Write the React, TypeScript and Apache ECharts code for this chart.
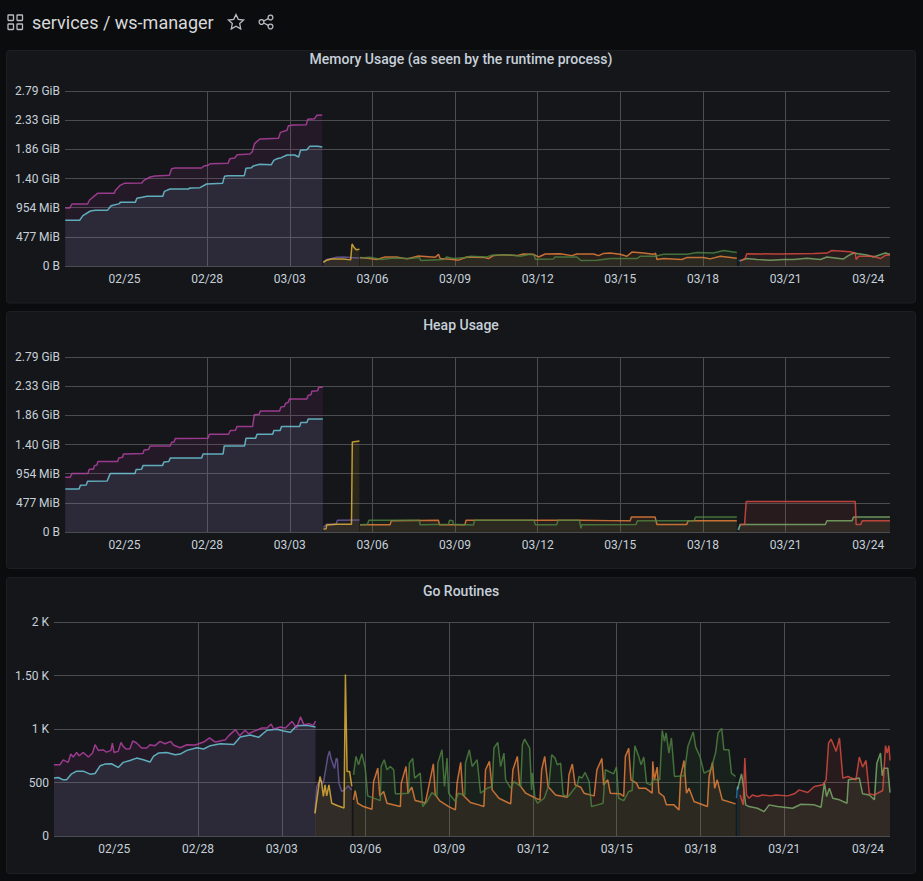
import React, { useEffect, useRef } from "react";
import * as echarts from "echarts";

type Pts = number[][];

// x = days since 02/25 (UTC), y = megabytes (memory, heap) or goroutine count
const BASE_YEAR = 2021;
const tickDays = [0, 3, 6, 9, 12, 15, 18, 21, 24, 27];
const startDay = -2.16;
const endDay = 27.79;
const byteTickLabels = ["0 B", "477 MiB", "954 MiB", "1.40 GiB", "1.86 GiB", "2.33 GiB", "2.79 GiB"];
const goTickLabels = ["0", "500", "1 K", "1.50 K", "2 K"];
const panelTitles = ["Memory Usage (as seen by the runtime process)", "Heap Usage", "Go Routines"];

const memMagenta: Pts = [[-2.15,994],[-1.99,994],[-1.91,1063],[-1.34,1063],[-1.27,1131],[-0.98,1246],[-0.37,1246],[-0.34,1291],[-0.16,1383],[-0.01,1417],[0.63,1423],[0.69,1463],[0.93,1526],[1.11,1543],[1.63,1554],[1.71,1669],[1.83,1680],[2.8,1680],[2.88,1714],[3.04,1726],[3.1,1754],[3.76,1760],[3.82,1840],[4.0,1851],[4.09,1909],[4.55,1920],[4.64,1960],[4.72,2097],[4.91,2177],[5.59,2188],[5.66,2291],[5.9,2326],[5.95,2406],[6.12,2417],[6.6,2423],[6.65,2514],[6.9,2526],[6.98,2583],[7.18,2588]];
const memCyan: Pts = [[-2.15,783],[-1.63,783],[-1.51,863],[-1.24,943],[-1.06,954],[-0.62,954],[-0.49,1034],[-0.18,1069],[-0.16,1091],[0.39,1091],[0.45,1160],[0.69,1183],[0.81,1194],[1.39,1194],[1.45,1280],[1.65,1320],[2.32,1320],[2.38,1337],[2.74,1343],[2.98,1406],[3.56,1417],[3.63,1537],[3.76,1549],[4.35,1549],[4.41,1674],[4.61,1686],[4.67,1714],[4.91,1743],[5.33,1737],[5.42,1811],[5.54,1840],[5.69,1857],[5.9,1903],[6.18,1903],[6.32,1869],[6.39,1983],[6.62,1994],[6.72,2051],[7.02,2051],[7.18,2040]];
const memPurple: Pts = [[7.22,72],[7.34,111],[7.52,128],[7.7,150],[7.95,155],[8.21,144],[8.53,139]];
const memYellow: Pts = [[7.22,61],[7.34,100],[7.52,122],[7.95,122],[8.21,105],[8.26,377],[8.33,322],[8.41,278],[8.53,289]];
const memOrange: Pts = [[8.55,144],[8.91,128],[9.16,111],[9.46,155],[9.88,155],[10.25,122],[10.67,172],[11.28,150],[11.4,200],[11.46,128],[11.94,111],[12.12,100],[12.42,155],[13.09,144],[13.21,128],[13.39,178],[13.76,194],[14.24,178],[14.48,205],[14.85,200],[15.03,155],[15.27,205],[15.82,211],[16.24,178],[16.42,205],[17.03,205],[17.21,178],[17.39,216],[17.63,222],[17.99,200],[18.24,167],[18.42,239],[18.84,222],[19.2,200],[19.28,222],[19.33,111],[19.57,128],[20.23,111],[20.41,144],[21.02,144],[21.26,122],[21.63,167],[22.23,133]];
const memGreen: Pts = [[8.55,139],[8.91,150],[9.34,111],[9.76,139],[10.37,128],[10.71,144],[10.75,94],[11.58,111],[11.7,155],[11.94,128],[12.42,144],[12.55,167],[13.15,155],[13.33,183],[14.0,194],[14.36,167],[14.73,200],[14.87,189],[14.92,117],[15.57,122],[15.63,155],[16.42,155],[16.57,94],[17.15,100],[17.63,128],[18.6,128],[18.72,167],[19.26,167],[19.57,200],[20.41,200],[20.78,233],[21.38,222],[21.75,266],[22.23,233]];
const memBlue: Pts = [[22.29,100],[22.38,89]];
const memRed: Pts = [[22.35,89],[22.53,128],[22.59,211],[23.68,205],[25.02,216],[25.5,222],[25.68,266],[26.35,244],[26.53,222],[26.56,111],[26.65,167],[27.19,167],[27.44,128],[27.62,183],[27.79,189]];
const memLightGreen: Pts = [[22.35,89],[22.59,128],[22.96,111],[23.44,100],[23.93,111],[24.29,111],[24.77,133],[25.26,111],[25.5,155],[26.1,122],[26.29,183],[26.47,222],[26.95,189],[27.19,155],[27.62,222],[27.79,200]];

const heapMagenta: Pts = [[-2.15,938],[-1.97,938],[-1.91,1001],[-1.33,1001],[-1.28,1075],[-1.13,1075],[-1.09,1138],[-1.0,1150],[-0.97,1207],[-0.25,1207],[-0.21,1270],[-0.07,1281],[-0.04,1338],[0.67,1344],[0.71,1407],[0.87,1413],[0.93,1476],[1.66,1476],[1.71,1539],[1.8,1544],[1.84,1602],[3.03,1607],[3.08,1676],[3.78,1676],[3.84,1739],[4.03,1745],[4.08,1808],[4.65,1808],[4.71,2008],[4.89,2019],[4.93,2076],[5.63,2076],[5.68,2145],[5.8,2151],[5.85,2208],[5.94,2219],[5.99,2282],[6.62,2282],[6.67,2345],[6.77,2351],[6.8,2414],[7.01,2420],[7.05,2482],[7.2,2482]];
const heapCyan: Pts = [[-2.15,738],[-1.65,738],[-1.6,801],[-1.39,807],[-1.34,869],[-0.63,875],[-0.58,932],[-0.52,1001],[0.38,1001],[0.42,1070],[0.62,1075],[0.67,1138],[1.38,1138],[1.43,1201],[1.61,1207],[1.66,1270],[2.8,1270],[2.85,1338],[3.58,1338],[3.62,1476],[4.36,1476],[4.41,1607],[4.76,1607],[4.81,1676],[5.38,1676],[5.42,1739],[5.65,1739],[5.7,1808],[6.36,1808],[6.4,1876],[6.62,1876],[6.67,1939],[7.2,1939]];
const heapPurple: Pts = [[7.22,80],[7.34,132],[7.68,132],[7.73,201],[8.53,207]];
const heapYellow: Pts = [[7.22,52],[7.32,57],[7.34,121],[7.7,132],[8.24,132],[8.27,1541],[8.53,1558]];
const heapOrange: Pts = [[8.55,126],[9.64,126],[9.69,195],[11.4,201],[11.43,126],[12.36,126],[12.4,201],[15.72,201],[16.54,201],[17.63,195],[18.36,191],[18.4,259],[19.26,259],[19.33,129],[20.41,129],[20.46,191],[22.23,191]];
const heapGreen: Pts = [[8.55,126],[8.82,132],[8.87,201],[10.71,201],[10.73,126],[11.76,132],[11.8,201],[11.92,195],[11.94,132],[12.67,120],[12.7,201],[14.87,201],[14.91,126],[15.69,126],[15.74,201],[16.52,201],[16.57,63],[16.6,126],[18.57,129],[18.62,191],[20.68,191],[20.73,259],[22.23,259]];
const heapBlue: Pts = [[22.27,34],[22.35,129]];
const heapRed: Pts = [[22.35,129],[22.51,129],[22.57,523],[26.53,523],[26.56,129],[26.73,129],[26.78,191],[27.79,191]];
const heapLightGreen: Pts = [[22.29,34],[22.35,129],[25.44,129],[25.5,191],[26.41,191],[26.47,259],[27.79,259]];

const goMagenta: Pts = [[-2.16,666],[-1.95,666],[-1.83,712],[-1.65,688],[-1.56,766],[-1.47,738],[-1.35,781],[-1.26,750],[-1.11,781],[-0.93,738],[-0.78,775],[-0.69,853],[-0.57,800],[-0.4,806],[-0.28,784],[-0.12,800],[-0.07,869],[-0.01,781],[0.14,791],[0.24,875],[0.32,838],[0.42,813],[0.56,816],[0.66,888],[0.8,869],[0.98,822],[1.16,822],[1.28,853],[1.46,844],[1.64,884],[1.82,862],[2.02,884],[2.12,850],[2.36,825],[2.6,853],[2.9,850],[3.2,878],[3.41,916],[3.62,878],[3.98,900],[4.1,938],[4.34,994],[4.49,938],[4.69,988],[4.81,956],[4.99,978],[5.29,1009],[5.47,1009],[5.62,1047],[5.71,1000],[5.95,1019],[6.13,1009],[6.37,1072],[6.53,1009],[6.67,1113],[6.79,1041],[6.97,1050],[7.13,1034],[7.21,1075]];
const goCyan: Pts = [[-2.16,541],[-2.01,547],[-1.83,525],[-1.71,525],[-1.53,581],[-1.35,606],[-1.11,606],[-0.87,578],[-0.69,584],[-0.51,656],[-0.34,672],[-0.1,675],[0.14,641],[0.32,688],[0.56,706],[0.8,728],[1.04,713],[1.28,691],[1.4,744],[1.58,775],[1.88,781],[2.18,759],[2.36,766],[2.6,800],[2.96,825],[3.2,813],[3.44,844],[3.8,863],[4.28,856],[4.51,925],[4.87,944],[5.17,922],[5.47,988],[5.83,997],[6.07,981],[6.31,969],[6.53,1031],[6.91,1034],[7.21,1019]];
const goPurple: Pts = [[7.19,212],[7.25,462],[7.37,525],[7.49,494],[7.57,619],[7.65,744],[7.71,794],[7.77,719],[7.89,631],[7.95,725],[7.99,719],[8.05,494],[8.15,416],[8.25,431],[8.37,469],[8.51,431]];
const goYellow: Pts = [[7.19,212],[7.29,400],[7.37,556],[7.43,494],[7.49,369],[7.55,478],[7.61,375],[7.69,478],[7.79,306],[8.03,281],[8.23,262],[8.28,1509],[8.34,603],[8.43,603],[8.51,463]];
const goOrange: Pts = [[8.57,338],[8.63,425],[8.72,306],[8.93,275],[9.23,250],[9.29,509],[9.44,634],[9.51,375],[9.65,416],[9.77,306],[10.25,275],[10.28,494],[10.45,650],[10.52,400],[10.66,456],[10.78,331],[11.08,313],[11.14,306],[11.29,494],[11.43,675],[11.5,384],[11.66,328],[11.98,275],[12.22,244],[12.28,494],[12.41,688],[12.49,384],[12.76,313],[13.06,291],[13.24,275],[13.3,619],[13.44,697],[13.54,431],[13.78,353],[14.2,300],[14.28,619],[14.44,744],[14.52,478],[14.74,400],[15.1,353],[15.25,338],[15.31,619],[15.42,744],[15.54,463],[15.81,384],[16.23,363],[16.29,572],[16.41,672],[16.51,478],[16.71,456],[16.83,400],[17.19,375],[17.29,619],[17.47,725],[17.53,478],[17.68,525],[17.77,400],[18.13,394],[18.25,369],[18.31,744],[18.43,819],[18.51,525],[18.71,494],[18.79,447],[19.03,447],[19.27,400],[19.29,697],[19.35,525],[19.45,644],[19.51,406],[19.69,369],[19.78,291],[20.05,291],[20.23,244],[20.29,556],[20.41,706],[20.5,400],[20.59,447],[20.77,322],[21.25,275],[21.31,556],[21.43,688],[21.51,447],[21.6,525],[21.78,338],[22.26,300]];
const goGreen: Pts = [[8.57,572],[8.66,744],[8.75,666],[8.87,769],[8.99,634],[9.08,375],[9.53,331],[9.56,650],[9.67,713],[9.77,619],[9.89,650],[10.01,619],[10.07,394],[10.25,394],[10.54,400],[10.57,681],[10.69,725],[10.76,541],[10.96,588],[11.05,275],[11.2,322],[11.38,406],[11.56,369],[11.59,681],[11.74,806],[11.83,463],[11.92,728],[11.98,400],[12.22,322],[12.32,400],[12.56,384],[12.58,681],[12.72,806],[12.82,650],[13.0,713],[13.12,400],[13.36,447],[13.54,463],[13.6,822],[13.74,875],[13.84,650],[13.96,775],[14.02,525],[14.2,447],[14.32,509],[14.56,463],[14.62,853],[14.7,906],[14.88,822],[14.95,431],[14.98,588],[15.07,353],[15.16,306],[15.4,353],[15.57,478],[15.67,759],[15.79,728],[15.87,666],[15.99,681],[16.08,384],[16.26,369],[16.59,478],[16.65,556],[16.75,541],[16.87,594],[17.01,509],[17.1,275],[17.31,291],[17.51,306],[17.59,619],[17.89,581],[17.99,644],[18.07,353],[18.25,331],[18.43,416],[18.55,425],[18.65,844],[18.79,744],[18.87,666],[18.97,738],[19.07,494],[19.21,478],[19.31,525],[19.54,525],[19.63,988],[19.71,884],[19.77,963],[19.87,775],[19.96,916],[20.07,556],[20.41,563],[20.55,838],[20.74,972],[20.83,831],[20.98,744],[21.13,588],[21.37,619],[21.54,775],[21.63,963],[21.76,1006],[21.84,806],[22.02,806],[22.11,588],[22.26,556]];
const goBlue: Pts = [[22.29,353],[22.32,463],[22.38,447]];
const goRed: Pts = [[22.42,384],[22.53,291],[22.59,728],[22.65,384],[22.74,353],[22.86,384],[23.04,369],[23.22,384],[23.52,375],[23.7,384],[24.12,375],[24.36,394],[24.54,431],[24.84,406],[25.08,463],[25.38,478],[25.5,525],[25.59,869],[25.68,906],[25.86,791],[25.98,916],[26.1,541],[26.28,556],[26.57,525],[26.69,738],[26.81,644],[26.93,706],[27.05,394],[27.23,384],[27.53,425],[27.63,844],[27.69,775],[27.75,844],[27.79,706]];
const goLightGreen: Pts = [[22.32,431],[22.47,581],[22.54,463],[22.62,291],[22.74,275],[23.04,259],[23.28,228],[23.46,291],[23.76,275],[24.3,259],[24.6,297],[25.08,291],[25.32,269],[25.44,494],[25.52,369],[25.62,447],[25.74,353],[25.98,338],[26.25,306],[26.3,525],[26.69,541],[26.81,394],[27.05,384],[27.23,338],[27.32,681],[27.45,775],[27.51,563],[27.57,634],[27.71,634],[27.79,406]];

const COLORS = {
  magenta: "#BA43A9", cyan: "#6ED0E0", purple: "#705DA0", yellow: "#EAB839", orange: "#EF843C",
  green: "#508642", blue: "#1F78C1", red: "#E24D42", lightGreen: "#7EB26D",
};
const TEXT = "#c7d0d9";
const GRID_LINE = "#4a4c50";
const FONT = "Roboto";
const DAY_MS = 86400000;
const ORIGIN = Date.UTC(BASE_YEAR, 1, 25);

const memorySets: [Pts, string][] = [[memCyan, COLORS.cyan],[memMagenta, COLORS.magenta],[memPurple, COLORS.purple],[memYellow, COLORS.yellow],[memOrange, COLORS.orange],[memGreen, COLORS.green],[memBlue, COLORS.blue],[memLightGreen, COLORS.lightGreen],[memRed, COLORS.red]];
const heapSets: [Pts, string][] = [[heapCyan, COLORS.cyan],[heapMagenta, COLORS.magenta],[heapPurple, COLORS.purple],[heapYellow, COLORS.yellow],[heapOrange, COLORS.orange],[heapGreen, COLORS.green],[heapBlue, COLORS.blue],[heapLightGreen, COLORS.lightGreen],[heapRed, COLORS.red]];
const goSets: [Pts, string][] = [[goCyan, COLORS.cyan],[goMagenta, COLORS.magenta],[goPurple, COLORS.purple],[goYellow, COLORS.yellow],[goOrange, COLORS.orange],[goGreen, COLORS.green],[goBlue, COLORS.blue],[goLightGreen, COLORS.lightGreen],[goRed, COLORS.red]];

const pad = (n: number) => String(n).padStart(2, "0");
const dateLabel = (day: number) => {
  const d = new Date(ORIGIN + day * DAY_MS);
  return pad(d.getUTCMonth() + 1) + "/" + pad(d.getUTCDate());
};

function buildOption() {
  const grids = [
    { left: 65, top: 91, width: 825, height: 175 },
    { left: 65, top: 357, width: 825, height: 175 },
    { left: 54, top: 622, width: 836, height: 214 },
  ];
  const xAxis = grids.map((_, i) => ({
    type: "value",
    gridIndex: i,
    z: 1,
    min: startDay,
    max: endDay,
    axisLine: { show: false },
    axisTick: { show: false, customValues: tickDays },
    splitLine: { show: true, showMinLine: false, showMaxLine: false, lineStyle: { color: GRID_LINE, width: 1 } },
    axisLabel: {
      customValues: tickDays,
      color: TEXT,
      fontFamily: FONT,
      fontSize: 12,
      margin: 7,
      hideOverlap: false,
      formatter: (v: number) => dateLabel(v),
    },
  }));
  const yAxis = grids.map((_, i) => {
    const labels = i === 2 ? goTickLabels : byteTickLabels;
    const max = i === 2 ? 2000 : 3000;
    return {
      type: "value",
      gridIndex: i,
      z: 1,
      min: 0,
      max,
      interval: 500,
      axisLine: { show: false },
      axisTick: { show: false },
      splitLine: { show: true, lineStyle: { color: GRID_LINE, width: 1 } },
      axisLabel: {
        color: TEXT,
        fontFamily: FONT,
        fontSize: 12,
        margin: 5,
        formatter: (v: number) => labels[Math.round(v / 500)],
      },
    };
  });
  const series: any[] = [];
  [memorySets, heapSets, goSets].forEach((sets, i) => {
    sets.forEach(([pts, color]) => {
      series.push({
        type: "line",
        xAxisIndex: i,
        yAxisIndex: i,
        data: pts,
        showSymbol: false,
        smooth: false,
        lineStyle: { color, width: 1.5, opacity: 0.8 },
        itemStyle: { color },
        areaStyle: { color, opacity: 0.1 },
        silent: true,
      });
    });
  });

  const panels = [
    { y: 50, h: 252.5 },
    { y: 311, h: 257 },
    { y: 577, h: 296 },
  ];
  const titleY = [59, 325, 591];
  const iconStyle = { fill: "none", stroke: "#b9bdc4", lineWidth: 1.3 };
  const starPoints: number[][] = [[236,14.5],[238.3,19.4],[243.6,20],[239.7,23.6],[240.7,28.9],[236,26.3],[231.3,28.9],[232.3,23.6],[228.4,20],[233.7,19.4]];
  const graphic: any[] = [
    ...panels.map((p) => ({
      type: "rect",
      z: -1,
      shape: { x: 6.5, y: p.y + 0.5, width: 909, height: p.h, r: 3 },
      style: { fill: "#141619", stroke: "#1d1f23", lineWidth: 1 },
      silent: true,
    })),
    ...panelTitles.map((t, i) => ({
      type: "text",
      x: 461,
      y: titleY[i],
      style: { text: t, fill: TEXT, font: `500 14px ${FONT}`, textAlign: "center", textVerticalAlign: "middle" },
      silent: true,
    })),
    {
      type: "text",
      x: 32,
      y: 22,
      style: { text: "services / ws-manager", fill: "#d8d9da", font: `400 18px ${FONT}`, textAlign: "left", textVerticalAlign: "middle" },
      silent: true,
    },
    ...[[8, 15], [17, 15], [8, 24], [17, 24]].map(([x, y]) => ({
      type: "rect",
      shape: { x, y, width: 5.5, height: 5.5, r: 0.5 },
      style: iconStyle,
      silent: true,
    })),
    { type: "polygon", shape: { points: starPoints }, style: iconStyle, silent: true },
    ...[[261.5, 22], [270.5, 17.5], [270.5, 26.5]].map(([cx, cy]) => ({
      type: "circle",
      shape: { cx, cy, r: 2.4 },
      style: iconStyle,
      silent: true,
    })),
    { type: "line", shape: { x1: 263.7, y1: 21, x2: 268.3, y2: 18.6 }, style: iconStyle, silent: true },
    { type: "line", shape: { x1: 263.7, y1: 23, x2: 268.3, y2: 25.4 }, style: iconStyle, silent: true },
  ];

  return {
    animation: false,
    backgroundColor: "#0b0c0e",
    textStyle: { fontFamily: FONT },
    tooltip: { show: false },
    legend: { show: false },
    grid: grids,
    xAxis,
    yAxis,
    series,
    graphic,
  };
}

export default function App() {
  const ref = useRef<HTMLDivElement>(null);
  useEffect(() => {
    document.body.style.margin = "0";
    document.body.style.background = "#0b0c0e";
    const chart = echarts.init(ref.current!, undefined, { renderer: "svg" });
    chart.setOption(buildOption() as any);
    return () => chart.dispose();
  }, []);
  return <div ref={ref} style={{ width: 923, height: 881 }} />;
}
